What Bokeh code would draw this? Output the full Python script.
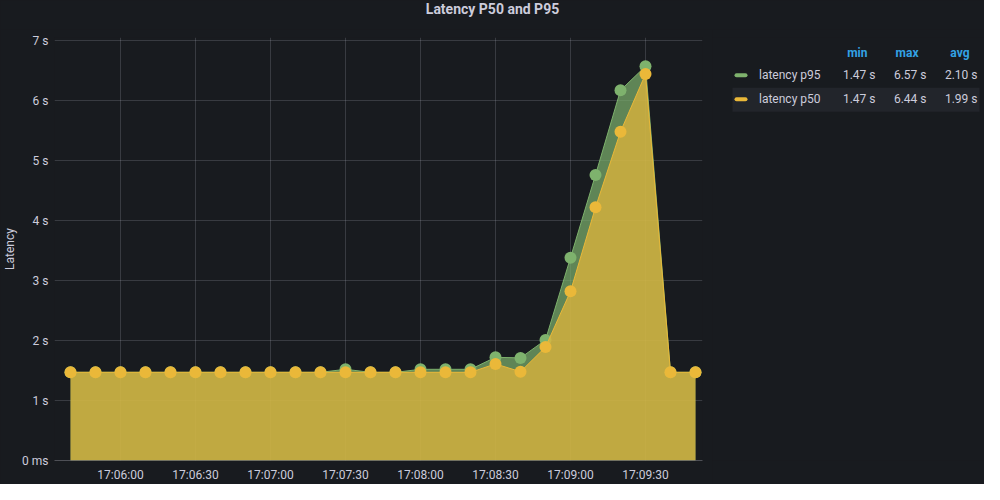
import pandas as pd
from bokeh.plotting import figure
from bokeh.models import Range1d, FixedTicker, DatetimeTickFormatter, ColumnDataSource
from bokeh.layouts import column, row
from bokeh.embed import file_html
from bokeh.resources import INLINE
from bokeh.core.properties import value

DAY = "2024-01-01 "
times = ["17:05:40", "17:05:50", "17:06:00", "17:06:10", "17:06:20", "17:06:30",
         "17:06:40", "17:06:50", "17:07:00", "17:07:10", "17:07:20", "17:07:30",
         "17:07:40", "17:07:50", "17:08:00", "17:08:10", "17:08:20", "17:08:30",
         "17:08:40", "17:08:50", "17:09:00", "17:09:10", "17:09:20", "17:09:30",
         "17:09:40", "17:09:50"]
p95 = [1.47, 1.47, 1.47, 1.47, 1.47, 1.47, 1.47, 1.47, 1.47, 1.47, 1.47, 1.52,
       1.47, 1.47, 1.52, 1.52, 1.52, 1.72, 1.71, 2.01, 3.38, 4.76, 6.17, 6.57,
       1.47, 1.47]
p50 = [1.47, 1.47, 1.47, 1.47, 1.47, 1.47, 1.47, 1.47, 1.47, 1.47, 1.47, 1.47,
       1.47, 1.47, 1.47, 1.47, 1.47, 1.61, 1.48, 1.89, 2.82, 4.22, 5.48, 6.44,
       1.47, 1.47]
x_tick_labels = ["17:06:00", "17:06:30", "17:07:00", "17:07:30",
                 "17:08:00", "17:08:30", "17:09:00", "17:09:30"]
y_ticks = [0, 1, 2, 3, 4, 5, 6, 7]
y_tick_labels = ["0 ms", "1 s", "2 s", "3 s", "4 s", "5 s", "6 s", "7 s"]

series_names = ["latency p95", "latency p50"]
series_colors = ["#7EB26D", "#EAB839"]
series_min = ["1.47 s", "1.47 s"]
series_max = ["6.57 s", "6.44 s"]
series_avg = ["2.10 s", "1.99 s"]
headers = ["min", "max", "avg"]
title_text = "Latency P50 and P95"

BG = "#181b1f"
TXT = "#ccccdc"
GREEN, YELLOW = series_colors
FONT = "Roboto"
STY = {"background-color": BG}

t = pd.to_datetime([DAY + s for s in times])
src = ColumnDataSource(dict(t=t, p95=p95, p50=p50))

# ---------- title ----------
tf = figure(width=984, height=29, x_range=Range1d(0, 984), y_range=Range1d(29, 0),
            toolbar_location=None, output_backend="svg", min_border=0,
            x_axis_location=None, y_axis_location=None, styles=STY,
            background_fill_color=BG, border_fill_color=BG, outline_line_color=None)
tf.grid.visible = False
tf.text(x=[492], y=[8.5], text=[title_text], text_align="center",
        text_baseline="middle", text_font=value(FONT), text_font_size="14px",
        text_font_style="bold", text_color=TXT)

# ---------- main chart ----------
p = figure(width=712, height=455, x_axis_type="datetime",
           x_range=Range1d(pd.Timestamp(DAY + "17:05:33.6"), pd.Timestamp(DAY + "17:09:52.8")),
           y_range=Range1d(0, 7.05),
           toolbar_location=None, output_backend="svg", styles=STY,
           min_border_left=54, min_border_right=10, min_border_top=8, min_border_bottom=24,
           background_fill_color=BG, border_fill_color=BG, outline_line_color=None)

p.varea(x="t", y1=0, y2="p95", source=src, fill_color=GREEN, fill_alpha=0.7)
p.line(x="t", y="p95", source=src, line_color=GREEN, line_width=1)
p.scatter(x="t", y="p95", source=src, size=12, fill_color=GREEN, line_color=None)
p.varea(x="t", y1=0, y2="p50", source=src, fill_color=YELLOW, fill_alpha=0.7)
p.line(x="t", y="p50", source=src, line_color=YELLOW, line_width=1)
p.scatter(x="t", y="p50", source=src, size=12, fill_color=YELLOW, line_color=None)

xt = [pd.Timestamp(DAY + s).value // 10**6 for s in x_tick_labels]
p.xaxis.ticker = FixedTicker(ticks=xt)
fmt = "%H:%M:%S"
p.xaxis.formatter = DatetimeTickFormatter(seconds=fmt, minsec=fmt, minutes=fmt,
                                          hourmin=fmt, hours=fmt, milliseconds=fmt)
p.yaxis.ticker = FixedTicker(ticks=y_ticks)
p.yaxis.major_label_overrides = {v: l for v, l in zip(y_ticks, y_tick_labels)}
p.yaxis.axis_label = "Latency"

for ax in (p.xaxis, p.yaxis):
    ax.major_tick_line_color = None
    ax.minor_tick_line_color = None
    ax.major_tick_out = 0
    ax.major_tick_in = 0
    ax.minor_tick_out = 0
    ax.minor_tick_in = 0
    ax.major_label_text_font = FONT
    ax.major_label_text_font_size = "12px"
    ax.major_label_text_color = TXT
    ax.axis_label_text_font = FONT
    ax.axis_label_text_font_size = "12px"
    ax.axis_label_text_font_style = "normal"
    ax.axis_label_text_color = TXT
p.xaxis.axis_line_color = TXT
p.xaxis.axis_line_alpha = 0.3
p.yaxis.axis_line_color = None
p.xaxis.major_label_standoff = 7
p.yaxis.major_label_standoff = 6
p.yaxis.axis_label_standoff = 2

p.grid.grid_line_color = TXT
p.grid.grid_line_alpha = 0.18

# ---------- legend table ----------
lg = figure(width=272, height=455, x_range=Range1d(0, 272), y_range=Range1d(455, 0),
            toolbar_location=None, output_backend="svg", min_border=0,
            x_axis_location=None, y_axis_location=None, styles=STY,
            background_fill_color=BG, border_fill_color=BG, outline_line_color=None)
lg.grid.visible = False

row_y = [40.5, 66.5]
lg.quad(left=[20], right=[267], top=[54], bottom=[80], fill_color="#22252b", line_color=None)
lg.text(x=[155, 206, 257], y=[17, 17, 17], text=headers, text_align="right",
        text_baseline="middle", text_font=value(FONT), text_font_size="12px",
        text_font_style="bold", text_color="#33A2E5")
for i, c in enumerate(series_colors):
    lg.line(x=[24, 33], y=[row_y[i], row_y[i]], line_color=c, line_width=4, line_cap="round")
lg.text(x=[46.5, 46.5], y=row_y, text=series_names, text_align="left", text_baseline="middle",
        text_font=value(FONT), text_font_size="12px", text_color=TXT)
for xr, vals in zip([163, 214, 265], [series_min, series_max, series_avg]):
    lg.text(x=[xr, xr], y=row_y, text=vals, text_align="right", text_baseline="middle",
            text_font=value(FONT), text_font_size="12px", text_color=TXT)

layout = column(tf, row(p, lg, spacing=0, styles=STY), spacing=0, styles=STY)
open("out.html", "w").write(file_html(layout, INLINE))
